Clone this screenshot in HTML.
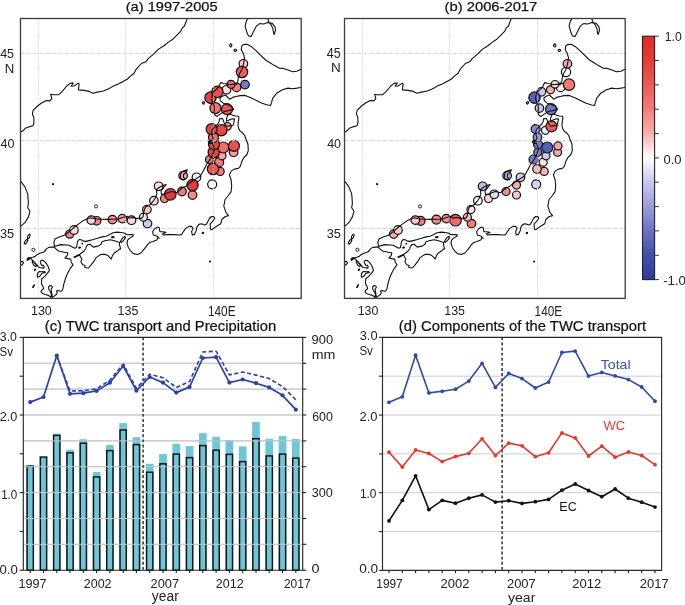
<!DOCTYPE html>
<html><head><meta charset="utf-8"><title>TWC figure</title>
<style>html,body{margin:0;padding:0;background:#fff;overflow:hidden}svg{display:block}</style></head><body>
<svg width="685" height="605" viewBox="0 0 685 605">
<rect width="685" height="605" fill="#fff"/>
<defs>
<clipPath id="mclip"><rect x="20.5" y="18.5" width="280.7" height="279.9"/></clipPath>
<g id="coast" fill="none" stroke="#111" stroke-width="1.1" stroke-linejoin="round">
<polyline points="20.4,132.3 22.9,130.8 25.8,127.9 28.8,126.9 33.1,125.7 33.9,122.8 33.9,117.7 32.4,114 33.1,110.4 37.5,106 41.9,102.8 46.3,100.6 49.9,100.9 51.8,98.7 50.7,94.3 52.8,94.7 58.7,94.7 62.3,91.4 66.7,86 70.4,83.1 73.3,83.1 71.1,86.3 74,86 78.4,83.1 79.1,84.1 78.4,89.9 84.2,90.4 89.3,91.4 93,93.3 97.4,92.1 103.2,91 107.6,89.2 110,88.1 113.4,86 118.8,83.7 127.5,79 130.4,76.1 134.1,73.2 136.3,69.1 141.4,63.5 145.8,61.8 148,58.9 153.8,53.8 158.2,49.4 164,45.7 168.4,42.1 172.8,39.2 177.2,34.8 180.8,31.1 182.3,27.9 184.5,26 185.9,22.1 187.4,18.3"/>
<polyline points="20.3,180.5 24.9,186.9 27.7,193.9 28.4,203.1 27.7,207.7 30,211.2 28.4,216.9 24.9,222.7 20.8,226.2 20.4,226.5"/>
<polyline points="248.4,18.3 246.5,20.6 245.1,25.9 246.5,31.2 248.4,35.9 251.1,36.5 253.7,31.2 256.4,25.9 259.7,23.6 263.7,24 267.6,22.6 272.2,23.3 274.9,26.6 275.6,29.9 274.2,34.5 273.6,33.2 272.9,28.6 270.9,24.6 268.9,22 267.6,18.3"/>
<polyline points="301.5,69 300.3,69.6 296.9,71.2 292.4,71.8 288,70.1 283.5,68.4 279,68.1 274.5,65.6 270,62.8 265.5,60 259.7,54.4 255.7,50.4 251.1,46.4 247.1,44.2 243.5,44.6 241.8,45.8 241.2,49.7 243.1,53 244.5,57.7 243.9,62 243,66 241.6,70 239.6,73.5 238.4,77 237.8,81.4 236.4,84.6 233,84.2 229.4,84.8 226,83.8 223.5,83.5 221,82.4 219.6,84.6 218.6,87 216,89.6 213.4,92 212,95.2 211.6,98.8 212.6,102.2 214,105.4 214.4,109 214,112.4 215,115.2 217.1,116.4 219.4,114.6 222.4,112.6 226,111 229.5,110.4 233.6,109.4 231.8,106.6 227.6,104.6 223.2,103.2 220.4,100.8 219.8,98 222.2,96.2 225.3,95 229.8,99.2 233.5,97.1 236.2,96.5 240,95.6 245.2,95.4 250.9,97.7 256.5,100.5 262.1,103.3 267.7,105 270.5,105.5 271.6,102.2 272.8,98.2 276.7,93.2 282.3,89.8 288,88.1 292.4,88.7 296.9,88.1 300.3,87.5 301.5,87"/>
<polygon points="219.5,118.8 222.6,118.6 223.4,120.6 224.2,123 225.6,125.6 227.4,126.2 230.4,125.6 233.2,125.2 233.8,122.6 234.6,119 232.6,118.8 230.2,119.6 227.6,120.8 226.4,121.2 226.6,118.4 227.6,115.4 229.1,114 232.4,115.1 235.4,116 238.6,116.3 238.9,118 238.3,121.5 238,125 238.6,128.5 240,130.9 242.9,133.2 244.7,135.5 246.3,140 247.9,144 248.3,150.6 246.9,154.5 243.6,157.9 241.7,161.8 240.3,166.4 238.3,168.4 234.4,169.1 231.1,171.1 229.4,175 231.1,179.7 231.7,185.6 231.1,191.6 228.4,195.5 225.1,199.5 223.8,206.1 226,212.6 228.6,215.6 225.3,216.5 222,219.2 220.7,223.8 217.4,225.8 213.4,228.4 212.1,229.7 210.5,229.3 210.1,223.8 212.1,221.8 214.8,218.5 214.1,216.9 211.5,216.5 209.5,218.5 208.1,221.1 206.6,224 204.8,225.1 201.5,223.8 198.9,224.4 196.9,227.1 196.3,230.4 194.3,234.4 192.3,235 191.6,231.7 193,228.4 191.6,226.4 189,226.4 185.7,228.4 183.7,231.1 181.7,234.6 179.1,235 173.8,234.6 167.2,234.6 163.2,235 162.6,233.7 165.9,232.4 162.6,231.7 159.9,231.7 159.3,227.8 157.3,227.1 154.6,228.8 152.6,231.7 153.3,235 157.3,236.3 159.3,238.3 157.7,237.4 157.1,239.7 153.1,241.4 149.6,242.6 147.3,244.9 144.4,248.9 140.9,253 137.4,254.5 133.4,253.6 130.5,250.7 128.2,247.2 127,243.1 127.6,240.2 129.9,237.9 132.8,236.2 133.4,234.8 130.5,234.5 127,234.8 124.7,233.3 121.2,232.5 117.2,232.1 113.1,232.7 109.7,234.5 106.2,236.2 102,236.9 97.5,238.2 93.3,239.5 89.1,240.6 86,241.4 83.3,241.1 81.2,239.8 79.1,239.5 77.6,241.4 77,244.5 76.5,247.4 74.9,248.2 72.3,246.9 69.2,245.3 66,245 60.9,244.6 57.4,245.6 54.5,246.2 53.9,242.4 55,238.9 58.5,237.2 64.3,235.3 69.5,231.5 73.1,228.3 78,224.4 83.6,220.4 87.5,218.8 90.6,217.8 95.9,218.9 100,219.2 106.7,219.4 112,219.2 118.4,219 122.5,217.5 127.7,216.3 128.6,218.2 132.4,217.4 137.1,218.6 139.4,218 141.5,218.6 143.3,216 143.4,213.1 145.1,207.3 150.4,204.4 153.9,200.3 155.1,198.5 156.9,193.9 156.3,189.8 159.5,187.2 163.5,185.2 166.2,184.5 163.8,187.4 161,191 161.5,194.5 165,193.8 171.4,191.5 176.7,192.7 182,188 186,186.2 189,183.6 192.4,181 195.4,179.2 198.6,177.2 200.6,175.6 202.2,172.8 203.6,170.2 205,167.4 206.4,164.8 207.8,162.8 209.4,160.6 210.8,158.2 212.4,155.2 213.4,152.4 214.2,149.4 213.6,146.4 212.5,143.3 209.8,143.6 208.2,141.8 209.6,140.6 211.7,140.4 213.2,138.6 212.2,135.4 211.7,131.9 212.5,129.3 215.2,126.7 217.8,124 219.2,121.4"/>
<polygon points="124.8,236.4 125.6,237.4 124.2,239.6 122.4,241.6 121,242.4 120.4,241.6 121.6,239.4 123.4,237.2"/>
<polygon points="119.5,242.3 118.3,242 114.3,240.8 110.2,239.7 105,240.8 101.6,242 101,244.3 98.1,246.1 95.4,246.6 93.3,247.1 91.7,245.8 90.2,244.2 88.1,244.5 86.5,246.1 85.7,248.7 83.9,251.3 79.7,254.2 73.9,257.1 74.6,257.4 79.7,254.9 80.6,257 81.8,259 80.9,261.8 82.8,264.7 85.1,265.6 84.7,267.5 88.5,268 91.3,264.7 94.2,260.9 96.1,257.6 99,255.6 101.7,254.2 104.6,254.4 107.4,255.2 109.6,257.4 111.2,259 112.6,255.4 114.3,253 117.8,250.7 119.6,249 120.7,248.9 119.5,244.9"/>
<polygon points="54.7,246.9 51.7,247.1 48.8,247.4 46.3,248.9 45.8,250 43.8,252 39.9,253.3 36.6,255 34.9,256.6 32.6,257.3 30.6,257.6 28,257.9 27,259.9 28.6,259.3 30.6,258.6 31.3,258.9 33.3,261.2 35.2,263.2 37.2,265.2 38.2,266.9 39.9,267.5 42.5,267.9 43.8,268.2 44.2,266.5 43.2,265.2 41.9,265.5 40.9,263.9 40.2,261.6 41.5,260.2 43.5,260.6 45.2,262.2 46.8,264.2 48.1,266.5 48.8,268.5 49.5,270.5 47.7,272.9 44.8,276.4 41.8,278.8 41.5,281.7 41.5,284 43,286.4 43.6,288.7 41.5,290.4 41,291.9 42.4,293.4 45.3,294.5 48.3,295.4 50,296.3 50.9,297.7 51.5,295.1 50.6,292.2 48.8,289.3 48.6,286.9 50,285.5 51.8,286.1 52.4,287.2 51.2,289 51.5,292.2 52.1,295.1 52.4,297.4 53.5,296.6 56.4,294.5 57.3,292.8 56.4,291 58.2,290.4 60.5,291.3 61.7,291 62.9,288.7 63.4,286.4 64,283.4 65.2,279.3 66.9,274.7 68.7,271.2 70.7,267.8 73,264.9 71.2,262 70.7,259.1 67.8,258.6 64.9,258 67.2,255.7 67.8,252.8 64.3,252.2 58.5,251 55,248.1"/>
<polygon points="181.6,172 184.6,170.6 187.4,169.8 186.2,172.6 183.6,174.2 183.4,177 185.2,179.4 182.4,179.6 180.2,177.6 180.6,174.4"/>
<polygon points="29.4,234.2 30.2,235.2 29.6,237.2 28.4,238.8 27.4,238.6 27.6,236.6 28.4,235"/>
<polygon points="27.2,239.4 27.8,240.4 26.8,242.6 25.2,244.2 24.2,243.6 24.8,241.6 26.2,239.8"/>
<polygon points="20.5,262 22.5,261.4 23.6,262.8 22.4,264.6 20.5,265.4"/>
<polygon points="32.6,287.4 33.4,285.6 34.4,284.6 34.2,285.8 33.2,287.6"/>
<polygon points="37.8,272.9 39.5,271.5 41.8,271.8 44.6,271.6 45.4,272.4 43.2,273 41.8,273.5 40.6,275.2 39.5,276.6 37.8,277.3 37.2,275.8"/>
<polygon points="27.2,259.4 28.4,258.2 30.2,258.2 28.8,259.4 27.6,260.4"/>
<polygon points="79.1,247.1 80.6,247.4 79.8,248.2 78.6,248"/>
<polygon points="111.4,237.0 113.0,236.4 114.2,237.0 113.2,237.8 111.8,237.8"/>
<polygon points="32.2,260.6 33.4,261.4 35.2,263.6 36.6,265.4 35.6,266.6 33.6,265 32.4,262.6"/>
<polygon points="34.4,269.6 35.2,268.8 35.6,269.8 34.6,270.6"/>
<polygon points="229.6,44.8 230.8,43.6 232.0,45.0 231.0,47.0 229.8,46.4"/>
<polygon points="234.0,50.0 235.6,49.2 236.8,50.2 235.8,51.4 234.4,51.2"/>
<polygon points="202.6,102.2 203.8,101.4 204.6,102.6 203.6,104.2 202.6,103.6"/>
<circle cx="53.1" cy="184.2" r="1.1" fill="#111" stroke="none"/>
<circle cx="33.4" cy="249.8" r="1.6" stroke-width="0.9"/>
<circle cx="82.3" cy="243.7" r="0.9" fill="#111" stroke="none"/>
<circle cx="96.0" cy="206.4" r="1.6" stroke-width="0.9"/>
<circle cx="202.9" cy="233.0" r="1.2" fill="#111" stroke="none"/>
<circle cx="210.1" cy="261.5" r="1.1" fill="#111" stroke="none"/>
<circle cx="209.9" cy="142.0" r="1.0" fill="#111" stroke="none"/>
</g>
<g id="coast2" fill="none" stroke="#111" stroke-width="0.9" stroke-linejoin="round" opacity="0.85">
<polyline points="301.5,69 300.3,69.6 296.9,71.2 292.4,71.8 288,70.1 283.5,68.4 279,68.1 274.5,65.6 270,62.8 265.5,60 259.7,54.4 255.7,50.4 251.1,46.4 247.1,44.2 243.5,44.6 241.8,45.8 241.2,49.7 243.1,53 244.5,57.7 243.9,62 243,66 241.6,70 239.6,73.5 238.4,77 237.8,81.4 236.4,84.6 233,84.2 229.4,84.8 226,83.8 223.5,83.5 221,82.4 219.6,84.6 218.6,87 216,89.6 213.4,92 212,95.2 211.6,98.8 212.6,102.2 214,105.4 214.4,109 214,112.4 215,115.2 217.1,116.4 219.4,114.6 222.4,112.6 226,111 229.5,110.4 233.6,109.4 231.8,106.6 227.6,104.6 223.2,103.2 220.4,100.8 219.8,98 222.2,96.2 225.3,95 229.8,99.2 233.5,97.1 236.2,96.5 240,95.6 245.2,95.4 250.9,97.7 256.5,100.5 262.1,103.3 267.7,105 270.5,105.5 271.6,102.2 272.8,98.2 276.7,93.2 282.3,89.8 288,88.1 292.4,88.7 296.9,88.1 300.3,87.5 301.5,87"/>
<polygon points="219.5,118.8 222.6,118.6 223.4,120.6 224.2,123 225.6,125.6 227.4,126.2 230.4,125.6 233.2,125.2 233.8,122.6 234.6,119 232.6,118.8 230.2,119.6 227.6,120.8 226.4,121.2 226.6,118.4 227.6,115.4 229.1,114 232.4,115.1 235.4,116 238.6,116.3 238.9,118 238.3,121.5 238,125 238.6,128.5 240,130.9 242.9,133.2 244.7,135.5 246.3,140 247.9,144 248.3,150.6 246.9,154.5 243.6,157.9 241.7,161.8 240.3,166.4 238.3,168.4 234.4,169.1 231.1,171.1 229.4,175 231.1,179.7 231.7,185.6 231.1,191.6 228.4,195.5 225.1,199.5 223.8,206.1 226,212.6 228.6,215.6 225.3,216.5 222,219.2 220.7,223.8 217.4,225.8 213.4,228.4 212.1,229.7 210.5,229.3 210.1,223.8 212.1,221.8 214.8,218.5 214.1,216.9 211.5,216.5 209.5,218.5 208.1,221.1 206.6,224 204.8,225.1 201.5,223.8 198.9,224.4 196.9,227.1 196.3,230.4 194.3,234.4 192.3,235 191.6,231.7 193,228.4 191.6,226.4 189,226.4 185.7,228.4 183.7,231.1 181.7,234.6 179.1,235 173.8,234.6 167.2,234.6 163.2,235 162.6,233.7 165.9,232.4 162.6,231.7 159.9,231.7 159.3,227.8 157.3,227.1 154.6,228.8 152.6,231.7 153.3,235 157.3,236.3 159.3,238.3 157.7,237.4 157.1,239.7 153.1,241.4 149.6,242.6 147.3,244.9 144.4,248.9 140.9,253 137.4,254.5 133.4,253.6 130.5,250.7 128.2,247.2 127,243.1 127.6,240.2 129.9,237.9 132.8,236.2 133.4,234.8 130.5,234.5 127,234.8 124.7,233.3 121.2,232.5 117.2,232.1 113.1,232.7 109.7,234.5 106.2,236.2 102,236.9 97.5,238.2 93.3,239.5 89.1,240.6 86,241.4 83.3,241.1 81.2,239.8 79.1,239.5 77.6,241.4 77,244.5 76.5,247.4 74.9,248.2 72.3,246.9 69.2,245.3 66,245 60.9,244.6 57.4,245.6 54.5,246.2 53.9,242.4 55,238.9 58.5,237.2 64.3,235.3 69.5,231.5 73.1,228.3 78,224.4 83.6,220.4 87.5,218.8 90.6,217.8 95.9,218.9 100,219.2 106.7,219.4 112,219.2 118.4,219 122.5,217.5 127.7,216.3 128.6,218.2 132.4,217.4 137.1,218.6 139.4,218 141.5,218.6 143.3,216 143.4,213.1 145.1,207.3 150.4,204.4 153.9,200.3 155.1,198.5 156.9,193.9 156.3,189.8 159.5,187.2 163.5,185.2 166.2,184.5 163.8,187.4 161,191 161.5,194.5 165,193.8 171.4,191.5 176.7,192.7 182,188 186,186.2 189,183.6 192.4,181 195.4,179.2 198.6,177.2 200.6,175.6 202.2,172.8 203.6,170.2 205,167.4 206.4,164.8 207.8,162.8 209.4,160.6 210.8,158.2 212.4,155.2 213.4,152.4 214.2,149.4 213.6,146.4 212.5,143.3 209.8,143.6 208.2,141.8 209.6,140.6 211.7,140.4 213.2,138.6 212.2,135.4 211.7,131.9 212.5,129.3 215.2,126.7 217.8,124 219.2,121.4"/>
</g>
</defs>
<text x="125.72" y="11.40" font-size="13.60" fill="#111" textLength="91.80" lengthAdjust="spacingAndGlyphs" font-family='"Liberation Sans", "DejaVu Sans", sans-serif' stroke="#111" stroke-width="0.25">(a) 1997-2005</text>
<text x="444.62" y="11.40" font-size="13.60" fill="#111" textLength="92.66" lengthAdjust="spacingAndGlyphs" font-family='"Liberation Sans", "DejaVu Sans", sans-serif' stroke="#111" stroke-width="0.25">(b) 2006-2017</text>
<g font-family='"Liberation Sans", "DejaVu Sans", sans-serif'>
<text x="0.15" y="57.97" font-size="13.14" fill="#222" textLength="13.88" lengthAdjust="spacingAndGlyphs" >45</text>
<text x="4.74" y="72.70" font-size="12.46" fill="#222" textLength="9.54" lengthAdjust="spacingAndGlyphs" >N</text>
<text x="0.45" y="147.66" font-size="13.52" fill="#222" textLength="13.92" lengthAdjust="spacingAndGlyphs" >40</text>
<text x="-0.01" y="237.67" font-size="12.68" fill="#222" textLength="14.26" lengthAdjust="spacingAndGlyphs" >35</text>
<text x="30.96" y="315.46" font-size="13.52" fill="#222" textLength="20.82" lengthAdjust="spacingAndGlyphs" >130</text>
<text x="117.57" y="315.46" font-size="13.52" fill="#222" textLength="20.78" lengthAdjust="spacingAndGlyphs" >135</text>
<text x="207.91" y="315.66" font-size="13.94" fill="#222" textLength="27.67" lengthAdjust="spacingAndGlyphs" >140E</text>
<text x="326.85" y="57.66" font-size="13.71" fill="#222" textLength="13.88" lengthAdjust="spacingAndGlyphs" >45</text>
<text x="331.11" y="72.40" font-size="13.04" fill="#222" textLength="9.80" lengthAdjust="spacingAndGlyphs" >N</text>
<text x="327.15" y="147.66" font-size="13.52" fill="#222" textLength="13.92" lengthAdjust="spacingAndGlyphs" >40</text>
<text x="326.69" y="237.67" font-size="12.68" fill="#222" textLength="14.26" lengthAdjust="spacingAndGlyphs" >35</text>
<text x="357.66" y="315.46" font-size="13.52" fill="#222" textLength="20.82" lengthAdjust="spacingAndGlyphs" >130</text>
<text x="444.27" y="315.46" font-size="13.52" fill="#222" textLength="20.78" lengthAdjust="spacingAndGlyphs" >135</text>
<text x="534.61" y="315.66" font-size="13.94" fill="#222" textLength="27.67" lengthAdjust="spacingAndGlyphs" >140E</text>
</g>
<g transform="translate(0,0)">
<g stroke="#111" stroke-width="1.2">
<circle cx="69.7" cy="234.1" r="4.1" fill="#f18888"/>
<circle cx="74.0" cy="230.0" r="4.3" fill="#fbdada"/>
<circle cx="147.5" cy="223.6" r="4.3" fill="#cbcbf1"/>
<circle cx="96.6" cy="220.8" r="4.3" fill="#f38888"/>
<circle cx="131.5" cy="220.2" r="4.3" fill="#f9d8d8"/>
<circle cx="91.3" cy="220.1" r="4.3" fill="#f8d3d3"/>
<circle cx="112.4" cy="219.6" r="4.3" fill="#f38888"/>
<circle cx="122.3" cy="218.6" r="4.3" fill="#f7a6a6"/>
<circle cx="143.4" cy="217.2" r="4.0" fill="#e9e9f6"/>
<circle cx="146.9" cy="209.6" r="4.3" fill="#f8c4c4"/>
<circle cx="153.9" cy="200.7" r="4.3" fill="#fadcdc"/>
<circle cx="164.5" cy="198.5" r="4.0" fill="#f38888"/>
<circle cx="192.5" cy="195.0" r="4.3" fill="#f38888"/>
<circle cx="182.0" cy="191.5" r="4.3" fill="#f17979"/>
<circle cx="158.6" cy="186.3" r="4.3" fill="#fbdede"/>
<circle cx="212.2" cy="184.3" r="4.5" fill="#ffffff"/>
<circle cx="196.5" cy="177.3" r="4.3" fill="#ffffff"/>
<circle cx="183.1" cy="175.6" r="4.3" fill="#f5a6a6"/>
<circle cx="220.2" cy="171.4" r="4.0" fill="#f17d7d"/>
<circle cx="219.2" cy="162.2" r="4.5" fill="#f17979"/>
<circle cx="209.5" cy="159.5" r="4.0" fill="#f17979"/>
<circle cx="222.0" cy="155.8" r="4.0" fill="#f6a6a6"/>
<circle cx="233.6" cy="152.2" r="4.3" fill="#f5a0a0"/>
<circle cx="227.5" cy="126.3" r="3.8" fill="#f39797"/>
<circle cx="226.5" cy="89.8" r="4.3" fill="#fbe2e2"/>
<circle cx="236.6" cy="87.4" r="4.3" fill="#f18080"/>
<circle cx="245.0" cy="84.6" r="4.3" fill="#7979cb"/>
<circle cx="231.0" cy="84.3" r="4.0" fill="#ef6a6a"/>
<circle cx="243.4" cy="63.8" r="4.3" fill="#f8c4cb"/>
<circle cx="170.3" cy="194.3" r="5.8" fill="#e23c3c"/>
<circle cx="192.5" cy="185.1" r="5.7" fill="#e23c3c"/>
<circle cx="213.0" cy="169.0" r="5.7" fill="#e95555"/>
<circle cx="213.8" cy="152.2" r="5.7" fill="#e24141"/>
<circle cx="223.3" cy="147.5" r="5.5" fill="#f16e6e"/>
<circle cx="234.0" cy="145.9" r="5.5" fill="#e75353"/>
<circle cx="214.0" cy="144.3" r="5.5" fill="#e24646"/>
<circle cx="213.5" cy="137.3" r="5.0" fill="#ef6b6b"/>
<circle cx="221.4" cy="130.3" r="5.6" fill="#e44848"/>
<circle cx="211.6" cy="129.1" r="5.5" fill="#e24646"/>
<circle cx="227.0" cy="109.2" r="5.5" fill="#e75555"/>
<circle cx="215.4" cy="108.1" r="5.5" fill="#f17373"/>
<circle cx="210.5" cy="97.6" r="5.7" fill="#e24141"/>
<circle cx="217.4" cy="91.8" r="5.7" fill="#e75050"/>
<circle cx="242.0" cy="72.0" r="5.7" fill="#ed5f5f"/>
</g>
<g stroke="#d0d0d0" stroke-width="1" stroke-dasharray="1.1,1.1" fill="none">
<line x1="38.3" y1="18.5" x2="38.3" y2="298.4"/>
<line x1="125.7" y1="18.5" x2="125.7" y2="298.4"/>
<line x1="213.4" y1="18.5" x2="213.4" y2="298.4"/>
</g>
<g stroke="#cccccc" stroke-width="1" stroke-dasharray="3.4,1,0.9,1.1" fill="none">
<line x1="20.5" y1="53.3" x2="301.2" y2="53.3"/>
<line x1="20.5" y1="140.7" x2="301.2" y2="140.7"/>
<line x1="20.5" y1="228.3" x2="301.2" y2="228.3"/>
</g>
<use href="#coast" clip-path="url(#mclip)"/>
<rect x="20.5" y="18.5" width="280.7" height="279.9" fill="none" stroke="#3a3a3a" stroke-width="1.3"/>
</g>
<g transform="translate(324,0)">
<g stroke="#111" stroke-width="1.2">
<circle cx="69.7" cy="234.1" r="4.2" fill="#f6aaaa"/>
<circle cx="74.0" cy="230.0" r="4.3" fill="#f8cbcb"/>
<circle cx="147.5" cy="223.6" r="4.3" fill="#f17979"/>
<circle cx="96.6" cy="220.8" r="4.5" fill="#f17979"/>
<circle cx="91.3" cy="220.1" r="4.3" fill="#f8c4c4"/>
<circle cx="112.4" cy="219.6" r="4.5" fill="#f38888"/>
<circle cx="122.3" cy="218.6" r="4.3" fill="#f38c8c"/>
<circle cx="143.4" cy="217.2" r="4.0" fill="#f6b9b9"/>
<circle cx="146.9" cy="209.6" r="4.0" fill="#fbe9e9"/>
<circle cx="153.9" cy="200.7" r="4.3" fill="#ffffff"/>
<circle cx="164.5" cy="198.5" r="4.0" fill="#f8dada"/>
<circle cx="192.5" cy="195.0" r="4.0" fill="#f8cbcb"/>
<circle cx="170.3" cy="194.3" r="4.3" fill="#dedef6"/>
<circle cx="182.0" cy="191.5" r="4.0" fill="#f18d8d"/>
<circle cx="158.6" cy="186.3" r="4.3" fill="#bcbceb"/>
<circle cx="192.5" cy="185.1" r="4.0" fill="#f6adad"/>
<circle cx="212.2" cy="184.3" r="4.5" fill="#d3d3f3"/>
<circle cx="196.5" cy="177.3" r="4.3" fill="#cbcbf1"/>
<circle cx="183.1" cy="175.6" r="4.3" fill="#adade7"/>
<circle cx="220.2" cy="171.4" r="4.0" fill="#f7b5b5"/>
<circle cx="213.0" cy="169.0" r="4.3" fill="#f7b9b9"/>
<circle cx="219.2" cy="162.2" r="4.0" fill="#fbe2e7"/>
<circle cx="209.5" cy="159.5" r="4.5" fill="#737dc8"/>
<circle cx="222.0" cy="155.8" r="4.0" fill="#c8c8f1"/>
<circle cx="233.6" cy="152.2" r="4.0" fill="#f6aaaa"/>
<circle cx="213.8" cy="152.2" r="4.0" fill="#7980cb"/>
<circle cx="234.0" cy="145.9" r="4.0" fill="#f5a6a6"/>
<circle cx="214.0" cy="144.3" r="4.5" fill="#737dcb"/>
<circle cx="213.5" cy="137.3" r="4.3" fill="#8f97d8"/>
<circle cx="221.4" cy="130.3" r="4.0" fill="#efeffa"/>
<circle cx="211.6" cy="129.1" r="4.5" fill="#8088cf"/>
<circle cx="215.4" cy="108.1" r="4.3" fill="#c4c4ef"/>
<circle cx="217.4" cy="91.8" r="4.3" fill="#cbcbf1"/>
<circle cx="226.5" cy="89.8" r="4.0" fill="#f8adad"/>
<circle cx="236.6" cy="87.4" r="4.3" fill="#fbebeb"/>
<circle cx="231.0" cy="84.3" r="3.8" fill="#f8d3d3"/>
<circle cx="242.0" cy="72.0" r="4.6" fill="#ffffff"/>
<circle cx="243.4" cy="63.8" r="4.3" fill="#f5a6ad"/>
<circle cx="131.5" cy="220.2" r="5.8" fill="#ef6a6a"/>
<circle cx="223.3" cy="147.5" r="5.5" fill="#5562b9"/>
<circle cx="227.5" cy="126.3" r="5.5" fill="#eb5a5a"/>
<circle cx="227.0" cy="109.2" r="5.5" fill="#6f79c8"/>
<circle cx="210.5" cy="97.6" r="5.7" fill="#5661b9"/>
<circle cx="245.0" cy="84.6" r="5.7" fill="#f17979"/>
</g>
<g stroke="#d0d0d0" stroke-width="1" stroke-dasharray="1.1,1.1" fill="none">
<line x1="38.3" y1="18.5" x2="38.3" y2="298.4"/>
<line x1="125.7" y1="18.5" x2="125.7" y2="298.4"/>
<line x1="213.4" y1="18.5" x2="213.4" y2="298.4"/>
</g>
<g stroke="#cccccc" stroke-width="1" stroke-dasharray="3.4,1,0.9,1.1" fill="none">
<line x1="20.5" y1="53.3" x2="301.2" y2="53.3"/>
<line x1="20.5" y1="140.7" x2="301.2" y2="140.7"/>
<line x1="20.5" y1="228.3" x2="301.2" y2="228.3"/>
</g>
<use href="#coast" clip-path="url(#mclip)"/>
<rect x="20.5" y="18.5" width="280.7" height="279.9" fill="none" stroke="#3a3a3a" stroke-width="1.3"/>
</g>
<defs><linearGradient id="cb" x1="0" y1="0" x2="0" y2="1">
<stop offset="0.0" stop-color="#de2d26"/>
<stop offset="0.1" stop-color="#e43d36"/>
<stop offset="0.2" stop-color="#ec5a55"/>
<stop offset="0.3" stop-color="#f27e7a"/>
<stop offset="0.4" stop-color="#f8b0ae"/>
<stop offset="0.5" stop-color="#ffffff"/>
<stop offset="0.6" stop-color="#c6c6ec"/>
<stop offset="0.7" stop-color="#9a9cd8"/>
<stop offset="0.8" stop-color="#6c72c2"/>
<stop offset="0.9" stop-color="#4250aa"/>
<stop offset="1.0" stop-color="#2c3d98"/>
</linearGradient></defs>
<rect x="642.5" y="36.2" width="12.1" height="243.4" fill="url(#cb)" stroke="#222" stroke-width="1.1"/>
<g stroke="#333" stroke-width="1">
<line x1="654.6" y1="36.2" x2="658.9" y2="36.2"/>
<line x1="654.6" y1="60.5" x2="658.9" y2="60.5"/>
<line x1="654.6" y1="84.9" x2="658.9" y2="84.9"/>
<line x1="654.6" y1="109.2" x2="658.9" y2="109.2"/>
<line x1="654.6" y1="133.6" x2="658.9" y2="133.6"/>
<line x1="654.6" y1="157.9" x2="658.9" y2="157.9"/>
<line x1="654.6" y1="182.2" x2="658.9" y2="182.2"/>
<line x1="654.6" y1="206.6" x2="658.9" y2="206.6"/>
<line x1="654.6" y1="230.9" x2="658.9" y2="230.9"/>
<line x1="654.6" y1="255.3" x2="658.9" y2="255.3"/>
<line x1="654.6" y1="279.6" x2="658.9" y2="279.6"/>
</g>
<g font-family='"Liberation Sans", "DejaVu Sans", sans-serif'>
<text x="664.79" y="41.47" font-size="13.24" fill="#222" textLength="16.94" lengthAdjust="spacingAndGlyphs" >1.0</text>
<text x="663.48" y="163.87" font-size="13.24" fill="#222" textLength="18.08" lengthAdjust="spacingAndGlyphs" >0.0</text>
<text x="663.21" y="284.97" font-size="13.24" fill="#222" textLength="22.70" lengthAdjust="spacingAndGlyphs" >-1.0</text>
</g>
<g stroke="#cdcdcd" stroke-width="1">
<line x1="23.3" y1="544.3" x2="302.7" y2="544.3"/>
<line x1="23.3" y1="518.5" x2="302.7" y2="518.5"/>
<line x1="23.3" y1="492.6" x2="302.7" y2="492.6"/>
<line x1="23.3" y1="466.7" x2="302.7" y2="466.7"/>
<line x1="23.3" y1="440.9" x2="302.7" y2="440.9"/>
<line x1="23.3" y1="415.0" x2="302.7" y2="415.0"/>
<line x1="23.3" y1="389.1" x2="302.7" y2="389.1"/>
<line x1="23.3" y1="363.3" x2="302.7" y2="363.3"/>
</g>
<g fill="#6ec6d7">
<rect x="26.35" y="465.4" width="7.70" height="104.8"/>
<rect x="39.63" y="456.4" width="7.70" height="113.8"/>
<rect x="52.91" y="433.5" width="7.70" height="136.7"/>
<rect x="66.19" y="449.7" width="7.70" height="120.5"/>
<rect x="79.47" y="439.2" width="7.70" height="131.0"/>
<rect x="92.75" y="471.9" width="7.70" height="98.3"/>
<rect x="106.03" y="445.0" width="7.70" height="125.2"/>
<rect x="119.31" y="423.1" width="7.70" height="147.1"/>
<rect x="132.59" y="437.2" width="7.70" height="133.0"/>
<rect x="145.87" y="463.8" width="7.70" height="106.4"/>
<rect x="159.15" y="454.1" width="7.70" height="116.1"/>
<rect x="172.43" y="443.8" width="7.70" height="126.4"/>
<rect x="185.71" y="446.0" width="7.70" height="124.2"/>
<rect x="198.99" y="433.1" width="7.70" height="137.1"/>
<rect x="212.27" y="436.8" width="7.70" height="133.4"/>
<rect x="225.55" y="440.1" width="7.70" height="130.1"/>
<rect x="238.83" y="446.4" width="7.70" height="123.8"/>
<rect x="252.11" y="421.9" width="7.70" height="148.3"/>
<rect x="265.39" y="438.8" width="7.70" height="131.4"/>
<rect x="278.67" y="436.1" width="7.70" height="134.1"/>
<rect x="291.95" y="439.0" width="7.70" height="131.2"/>
</g>
<g fill="none" stroke="#111" stroke-width="1.45">
<rect x="27.07" y="466.12" width="6.25" height="104.08"/>
<rect x="40.35" y="457.12" width="6.25" height="113.08"/>
<rect x="53.63" y="435.43" width="6.25" height="134.78"/>
<rect x="66.91" y="452.83" width="6.25" height="117.38"/>
<rect x="80.19" y="443.23" width="6.25" height="126.98"/>
<rect x="93.47" y="476.93" width="6.25" height="93.28"/>
<rect x="106.75" y="450.62" width="6.25" height="119.58"/>
<rect x="120.03" y="429.93" width="6.25" height="140.28"/>
<rect x="133.31" y="444.62" width="6.25" height="125.58"/>
<rect x="146.59" y="472.23" width="6.25" height="97.98"/>
<rect x="159.87" y="463.83" width="6.25" height="106.38"/>
<rect x="173.15" y="454.12" width="6.25" height="116.08"/>
<rect x="186.43" y="457.62" width="6.25" height="112.58"/>
<rect x="199.71" y="445.62" width="6.25" height="124.58"/>
<rect x="212.99" y="450.23" width="6.25" height="119.98"/>
<rect x="226.27" y="454.33" width="6.25" height="115.88"/>
<rect x="239.55" y="461.62" width="6.25" height="108.58"/>
<rect x="252.83" y="438.62" width="6.25" height="131.58"/>
<rect x="266.12" y="455.93" width="6.25" height="114.28"/>
<rect x="279.39" y="454.12" width="6.25" height="116.08"/>
<rect x="292.67" y="458.12" width="6.25" height="112.08"/>
</g>
<g stroke="#c6c6c6" stroke-width="1">
<line x1="23.3" y1="544.3" x2="302.7" y2="544.3"/>
<line x1="23.3" y1="518.5" x2="302.7" y2="518.5"/>
<line x1="23.3" y1="492.6" x2="302.7" y2="492.6"/>
<line x1="23.3" y1="466.7" x2="302.7" y2="466.7"/>
<line x1="23.3" y1="440.9" x2="302.7" y2="440.9"/>
<line x1="23.3" y1="415.0" x2="302.7" y2="415.0"/>
<line x1="23.3" y1="389.1" x2="302.7" y2="389.1"/>
<line x1="23.3" y1="363.3" x2="302.7" y2="363.3"/>
</g>
<line x1="143.1" y1="337.4" x2="143.1" y2="570.2" stroke="#222" stroke-width="1.4" stroke-dasharray="2.9,2.2"/>
<polyline points="56.8,355.5 70.0,391.0 83.3,390.8 96.6,388.8 109.9,380.2 123.2,364.2 136.4,388.2 149.7,374.2 163.0,377.7 176.3,387.4 189.6,381.5 202.8,351.9 216.1,351.2 229.4,374.9 242.7,372.0 256.0,375.1 269.2,378.6 282.5,386.5 295.8,399.8" fill="none" stroke="#2b42a8" stroke-width="1.6" stroke-dasharray="4.2,2.4"/>
<polyline points="30.2,402.1 43.5,397.0 56.8,355.5 70.0,393.8 83.3,393.2 96.6,390.9 109.9,382.7 123.2,366.0 136.4,390.7 149.7,377.0 163.0,382.6 176.3,392.6 189.6,386.9 202.8,358.0 216.1,357.2 229.4,382.6 242.7,379.5 256.0,383.2 269.2,387.4 282.5,395.3 295.8,409.7" fill="none" stroke="#2b42a8" stroke-width="1.7" stroke-linejoin="round"/>
<g fill="#2b42a8">
<circle cx="30.2" cy="402.1" r="2.1"/>
<circle cx="43.5" cy="397.0" r="2.1"/>
<circle cx="56.8" cy="355.5" r="2.1"/>
<circle cx="70.0" cy="393.8" r="2.1"/>
<circle cx="83.3" cy="393.2" r="2.1"/>
<circle cx="96.6" cy="390.9" r="2.1"/>
<circle cx="109.9" cy="382.7" r="2.1"/>
<circle cx="123.2" cy="366.0" r="2.1"/>
<circle cx="136.4" cy="390.7" r="2.1"/>
<circle cx="149.7" cy="377.0" r="2.1"/>
<circle cx="163.0" cy="382.6" r="2.1"/>
<circle cx="176.3" cy="392.6" r="2.1"/>
<circle cx="189.6" cy="386.9" r="2.1"/>
<circle cx="202.8" cy="358.0" r="2.1"/>
<circle cx="216.1" cy="357.2" r="2.1"/>
<circle cx="229.4" cy="382.6" r="2.1"/>
<circle cx="242.7" cy="379.5" r="2.1"/>
<circle cx="256.0" cy="383.2" r="2.1"/>
<circle cx="269.2" cy="387.4" r="2.1"/>
<circle cx="282.5" cy="395.3" r="2.1"/>
<circle cx="295.8" cy="409.7" r="2.1"/>
</g>
<path d="M23.3,337.4 H302.7 V570.2 H23.3 Z" fill="none" stroke="#2a2a2a" stroke-width="1.15"/>
<g stroke="#222" stroke-width="1.1">
<line x1="19.7" y1="570.2" x2="23.3" y2="570.2"/>
<line x1="19.7" y1="531.4" x2="23.3" y2="531.4"/>
<line x1="19.7" y1="492.6" x2="23.3" y2="492.6"/>
<line x1="19.7" y1="453.8" x2="23.3" y2="453.8"/>
<line x1="19.7" y1="415.0" x2="23.3" y2="415.0"/>
<line x1="19.7" y1="376.2" x2="23.3" y2="376.2"/>
<line x1="19.7" y1="337.4" x2="23.3" y2="337.4"/>
<line x1="302.7" y1="570.2" x2="306.3" y2="570.2"/>
<line x1="302.7" y1="544.3" x2="306.3" y2="544.3"/>
<line x1="302.7" y1="518.5" x2="306.3" y2="518.5"/>
<line x1="302.7" y1="492.6" x2="306.3" y2="492.6"/>
<line x1="302.7" y1="466.7" x2="306.3" y2="466.7"/>
<line x1="302.7" y1="440.9" x2="306.3" y2="440.9"/>
<line x1="302.7" y1="415.0" x2="306.3" y2="415.0"/>
<line x1="302.7" y1="389.1" x2="306.3" y2="389.1"/>
<line x1="302.7" y1="363.3" x2="306.3" y2="363.3"/>
<line x1="302.7" y1="337.4" x2="306.3" y2="337.4"/>
<line x1="30.2" y1="570.2" x2="30.2" y2="573.0"/>
<line x1="43.5" y1="570.2" x2="43.5" y2="573.0"/>
<line x1="56.8" y1="570.2" x2="56.8" y2="573.0"/>
<line x1="70.0" y1="570.2" x2="70.0" y2="573.0"/>
<line x1="83.3" y1="570.2" x2="83.3" y2="573.0"/>
<line x1="96.6" y1="570.2" x2="96.6" y2="573.0"/>
<line x1="109.9" y1="570.2" x2="109.9" y2="573.0"/>
<line x1="123.2" y1="570.2" x2="123.2" y2="573.0"/>
<line x1="136.4" y1="570.2" x2="136.4" y2="573.0"/>
<line x1="149.7" y1="570.2" x2="149.7" y2="573.0"/>
<line x1="163.0" y1="570.2" x2="163.0" y2="573.0"/>
<line x1="176.3" y1="570.2" x2="176.3" y2="573.0"/>
<line x1="189.6" y1="570.2" x2="189.6" y2="573.0"/>
<line x1="202.8" y1="570.2" x2="202.8" y2="573.0"/>
<line x1="216.1" y1="570.2" x2="216.1" y2="573.0"/>
<line x1="229.4" y1="570.2" x2="229.4" y2="573.0"/>
<line x1="242.7" y1="570.2" x2="242.7" y2="573.0"/>
<line x1="256.0" y1="570.2" x2="256.0" y2="573.0"/>
<line x1="269.2" y1="570.2" x2="269.2" y2="573.0"/>
<line x1="282.5" y1="570.2" x2="282.5" y2="573.0"/>
<line x1="295.8" y1="570.2" x2="295.8" y2="573.0"/>
</g>
<g font-family='"Liberation Sans", "DejaVu Sans", sans-serif'>
<text x="-0.19" y="341.07" font-size="12.54" fill="#222" textLength="17.13" lengthAdjust="spacingAndGlyphs" >3.0</text>
<text x="-0.52" y="355.67" font-size="12.54" fill="#222" textLength="13.50" lengthAdjust="spacingAndGlyphs" >Sv</text>
<text x="-0.23" y="421.46" font-size="13.52" fill="#222" textLength="17.58" lengthAdjust="spacingAndGlyphs" >2.0</text>
<text x="1.13" y="498.66" font-size="13.66" fill="#222" textLength="16.18" lengthAdjust="spacingAndGlyphs" >1.0</text>
<text x="-0.53" y="574.47" font-size="12.68" fill="#222" textLength="18.39" lengthAdjust="spacingAndGlyphs" >0.0</text>
<text x="311.62" y="344.17" font-size="12.54" fill="#222" textLength="21.47" lengthAdjust="spacingAndGlyphs" >900</text>
<text x="311.78" y="358.70" font-size="12.96" fill="#222" textLength="23.69" lengthAdjust="spacingAndGlyphs" >mm</text>
<text x="312.18" y="420.66" font-size="13.66" fill="#222" textLength="20.70" lengthAdjust="spacingAndGlyphs" >600</text>
<text x="311.79" y="497.46" font-size="13.52" fill="#222" textLength="21.09" lengthAdjust="spacingAndGlyphs" >300</text>
<text x="311.42" y="572.97" font-size="13.10" fill="#222" textLength="8.11" lengthAdjust="spacingAndGlyphs" >0</text>
<text x="18.45" y="587.78" font-size="12.25" fill="#222" textLength="28.07" lengthAdjust="spacingAndGlyphs" >1997</text>
<text x="83.78" y="587.78" font-size="12.25" fill="#222" textLength="27.74" lengthAdjust="spacingAndGlyphs" >2002</text>
<text x="150.56" y="587.78" font-size="12.25" fill="#222" textLength="28.58" lengthAdjust="spacingAndGlyphs" >2007</text>
<text x="215.77" y="587.78" font-size="12.25" fill="#222" textLength="27.85" lengthAdjust="spacingAndGlyphs" >2012</text>
<text x="283.90" y="587.78" font-size="12.25" fill="#222" textLength="26.70" lengthAdjust="spacingAndGlyphs" >2017</text>
<text x="151.83" y="601.20" font-size="14.27" fill="#222" textLength="26.95" lengthAdjust="spacingAndGlyphs" >year</text>
</g>
<text x="44.71" y="330.60" font-size="14.70" fill="#111" textLength="231.44" lengthAdjust="spacingAndGlyphs" font-family='"Liberation Sans", "DejaVu Sans", sans-serif' stroke="#111" stroke-width="0.22">(c) TWC transport and Precipitation</text>
<g stroke="#cdcdcd" stroke-width="1">
<line x1="382.5" y1="531.6" x2="661.6" y2="531.6"/>
<line x1="382.5" y1="492.7" x2="661.6" y2="492.7"/>
<line x1="382.5" y1="453.9" x2="661.6" y2="453.9"/>
<line x1="382.5" y1="415.1" x2="661.6" y2="415.1"/>
<line x1="382.5" y1="376.2" x2="661.6" y2="376.2"/>
</g>
<line x1="502.1" y1="337.4" x2="502.1" y2="570.4" stroke="#222" stroke-width="1.4" stroke-dasharray="2.9,2.2"/>
<polyline points="389.0,402.3 402.3,396.8 415.6,355.2 428.9,392.9 442.2,391.3 455.5,389.2 468.8,381.1 482.1,363.3 495.4,387.4 508.7,373.5 522.0,378.6 535.3,388.0 548.6,382.1 561.9,352.5 575.2,351.1 588.5,376.1 601.8,372.4 615.1,375.9 628.4,379.6 641.7,387.0 655.0,401.2" fill="none" stroke="#2f49ad" stroke-width="1.6" stroke-linejoin="round"/>
<g fill="#2f49ad">
<circle cx="389.0" cy="402.3" r="1.9"/>
<circle cx="402.3" cy="396.8" r="1.9"/>
<circle cx="415.6" cy="355.2" r="1.9"/>
<circle cx="428.9" cy="392.9" r="1.9"/>
<circle cx="442.2" cy="391.3" r="1.9"/>
<circle cx="455.5" cy="389.2" r="1.9"/>
<circle cx="468.8" cy="381.1" r="1.9"/>
<circle cx="482.1" cy="363.3" r="1.9"/>
<circle cx="495.4" cy="387.4" r="1.9"/>
<circle cx="508.7" cy="373.5" r="1.9"/>
<circle cx="522.0" cy="378.6" r="1.9"/>
<circle cx="535.3" cy="388.0" r="1.9"/>
<circle cx="548.6" cy="382.1" r="1.9"/>
<circle cx="561.9" cy="352.5" r="1.9"/>
<circle cx="575.2" cy="351.1" r="1.9"/>
<circle cx="588.5" cy="376.1" r="1.9"/>
<circle cx="601.8" cy="372.4" r="1.9"/>
<circle cx="615.1" cy="375.9" r="1.9"/>
<circle cx="628.4" cy="379.6" r="1.9"/>
<circle cx="641.7" cy="387.0" r="1.9"/>
<circle cx="655.0" cy="401.2" r="1.9"/>
</g>
<polyline points="389.0,452.2 402.3,467.1 415.6,450.0 428.9,453.5 442.2,461.6 455.5,456.6 468.8,453.3 482.1,438.8 495.4,455.5 508.7,443.1 522.0,445.8 535.3,456.7 548.6,452.8 561.9,432.9 575.2,437.9 588.5,456.0 601.8,446.1 615.1,457.2 628.4,452.0 641.7,455.5 655.0,464.7" fill="none" stroke="#e03a2e" stroke-width="1.6" stroke-linejoin="round"/>
<g fill="#e03a2e">
<circle cx="389.0" cy="452.2" r="1.9"/>
<circle cx="402.3" cy="467.1" r="1.9"/>
<circle cx="415.6" cy="450.0" r="1.9"/>
<circle cx="428.9" cy="453.5" r="1.9"/>
<circle cx="442.2" cy="461.6" r="1.9"/>
<circle cx="455.5" cy="456.6" r="1.9"/>
<circle cx="468.8" cy="453.3" r="1.9"/>
<circle cx="482.1" cy="438.8" r="1.9"/>
<circle cx="495.4" cy="455.5" r="1.9"/>
<circle cx="508.7" cy="443.1" r="1.9"/>
<circle cx="522.0" cy="445.8" r="1.9"/>
<circle cx="535.3" cy="456.7" r="1.9"/>
<circle cx="548.6" cy="452.8" r="1.9"/>
<circle cx="561.9" cy="432.9" r="1.9"/>
<circle cx="575.2" cy="437.9" r="1.9"/>
<circle cx="588.5" cy="456.0" r="1.9"/>
<circle cx="601.8" cy="446.1" r="1.9"/>
<circle cx="615.1" cy="457.2" r="1.9"/>
<circle cx="628.4" cy="452.0" r="1.9"/>
<circle cx="641.7" cy="455.5" r="1.9"/>
<circle cx="655.0" cy="464.7" r="1.9"/>
</g>
<polyline points="389.0,520.9 402.3,500.4 415.6,475.8 428.9,509.6 442.2,500.4 455.5,503.2 468.8,498.2 482.1,494.9 495.4,502.1 508.7,500.7 522.0,503.4 535.3,501.7 548.6,499.4 561.9,490.2 575.2,484.0 588.5,490.5 601.8,496.7 615.1,489.0 628.4,498.2 641.7,502.2 655.0,507.1" fill="none" stroke="#111111" stroke-width="1.6" stroke-linejoin="round"/>
<g fill="#111111">
<circle cx="389.0" cy="520.9" r="1.9"/>
<circle cx="402.3" cy="500.4" r="1.9"/>
<circle cx="415.6" cy="475.8" r="1.9"/>
<circle cx="428.9" cy="509.6" r="1.9"/>
<circle cx="442.2" cy="500.4" r="1.9"/>
<circle cx="455.5" cy="503.2" r="1.9"/>
<circle cx="468.8" cy="498.2" r="1.9"/>
<circle cx="482.1" cy="494.9" r="1.9"/>
<circle cx="495.4" cy="502.1" r="1.9"/>
<circle cx="508.7" cy="500.7" r="1.9"/>
<circle cx="522.0" cy="503.4" r="1.9"/>
<circle cx="535.3" cy="501.7" r="1.9"/>
<circle cx="548.6" cy="499.4" r="1.9"/>
<circle cx="561.9" cy="490.2" r="1.9"/>
<circle cx="575.2" cy="484.0" r="1.9"/>
<circle cx="588.5" cy="490.5" r="1.9"/>
<circle cx="601.8" cy="496.7" r="1.9"/>
<circle cx="615.1" cy="489.0" r="1.9"/>
<circle cx="628.4" cy="498.2" r="1.9"/>
<circle cx="641.7" cy="502.2" r="1.9"/>
<circle cx="655.0" cy="507.1" r="1.9"/>
</g>
<path d="M382.5,337.4 H661.6 V570.4 H382.5 Z" fill="none" stroke="#2a2a2a" stroke-width="1.15"/>
<g stroke="#222" stroke-width="1.1">
<line x1="379.1" y1="570.4" x2="382.5" y2="570.4"/>
<line x1="379.1" y1="531.6" x2="382.5" y2="531.6"/>
<line x1="379.1" y1="492.7" x2="382.5" y2="492.7"/>
<line x1="379.1" y1="453.9" x2="382.5" y2="453.9"/>
<line x1="379.1" y1="415.1" x2="382.5" y2="415.1"/>
<line x1="379.1" y1="376.2" x2="382.5" y2="376.2"/>
<line x1="379.1" y1="337.4" x2="382.5" y2="337.4"/>
<line x1="389.0" y1="570.4" x2="389.0" y2="573.3"/>
<line x1="402.3" y1="570.4" x2="402.3" y2="573.3"/>
<line x1="415.6" y1="570.4" x2="415.6" y2="573.3"/>
<line x1="428.9" y1="570.4" x2="428.9" y2="573.3"/>
<line x1="442.2" y1="570.4" x2="442.2" y2="573.3"/>
<line x1="455.5" y1="570.4" x2="455.5" y2="573.3"/>
<line x1="468.8" y1="570.4" x2="468.8" y2="573.3"/>
<line x1="482.1" y1="570.4" x2="482.1" y2="573.3"/>
<line x1="495.4" y1="570.4" x2="495.4" y2="573.3"/>
<line x1="508.7" y1="570.4" x2="508.7" y2="573.3"/>
<line x1="522.0" y1="570.4" x2="522.0" y2="573.3"/>
<line x1="535.3" y1="570.4" x2="535.3" y2="573.3"/>
<line x1="548.6" y1="570.4" x2="548.6" y2="573.3"/>
<line x1="561.9" y1="570.4" x2="561.9" y2="573.3"/>
<line x1="575.2" y1="570.4" x2="575.2" y2="573.3"/>
<line x1="588.5" y1="570.4" x2="588.5" y2="573.3"/>
<line x1="601.8" y1="570.4" x2="601.8" y2="573.3"/>
<line x1="615.1" y1="570.4" x2="615.1" y2="573.3"/>
<line x1="628.4" y1="570.4" x2="628.4" y2="573.3"/>
<line x1="641.7" y1="570.4" x2="641.7" y2="573.3"/>
<line x1="655.0" y1="570.4" x2="655.0" y2="573.3"/>
</g>
<g font-family='"Liberation Sans", "DejaVu Sans", sans-serif'>
<text x="359.69" y="340.37" font-size="13.38" fill="#222" textLength="17.87" lengthAdjust="spacingAndGlyphs" >3.0</text>
<text x="359.38" y="355.26" font-size="13.52" fill="#222" textLength="13.50" lengthAdjust="spacingAndGlyphs" >Sv</text>
<text x="359.55" y="420.66" font-size="13.52" fill="#222" textLength="18.00" lengthAdjust="spacingAndGlyphs" >2.0</text>
<text x="359.91" y="497.66" font-size="13.52" fill="#222" textLength="16.51" lengthAdjust="spacingAndGlyphs" >1.0</text>
<text x="359.16" y="573.48" font-size="12.11" fill="#222" textLength="18.92" lengthAdjust="spacingAndGlyphs" >0.0</text>
<text x="376.31" y="587.66" font-size="13.52" fill="#222" textLength="26.38" lengthAdjust="spacingAndGlyphs" >1997</text>
<text x="440.55" y="587.66" font-size="13.52" fill="#222" textLength="28.79" lengthAdjust="spacingAndGlyphs" >2002</text>
<text x="506.95" y="587.66" font-size="13.52" fill="#222" textLength="28.79" lengthAdjust="spacingAndGlyphs" >2007</text>
<text x="572.25" y="587.66" font-size="13.52" fill="#222" textLength="28.89" lengthAdjust="spacingAndGlyphs" >2012</text>
<text x="639.75" y="587.66" font-size="13.52" fill="#222" textLength="28.89" lengthAdjust="spacingAndGlyphs" >2017</text>
<text x="508.03" y="601.50" font-size="13.33" fill="#222" textLength="27.36" lengthAdjust="spacingAndGlyphs" >year</text>
<text x="600.72" y="369.07" font-size="13.47" fill="#3550b0" textLength="29.83" lengthAdjust="spacingAndGlyphs" >Total</text>
<text x="603.64" y="430.38" font-size="12.25" fill="#e03a2e" textLength="21.63" lengthAdjust="spacingAndGlyphs" >WC</text>
<text x="559.30" y="511.17" font-size="13.24" fill="#111" textLength="17.39" lengthAdjust="spacingAndGlyphs" >EC</text>
</g>
<text x="398.81" y="331.40" font-size="14.70" fill="#111" textLength="247.27" lengthAdjust="spacingAndGlyphs" font-family='"Liberation Sans", "DejaVu Sans", sans-serif' stroke="#111" stroke-width="0.22">(d) Components of the TWC transport</text>
</svg></body></html>
